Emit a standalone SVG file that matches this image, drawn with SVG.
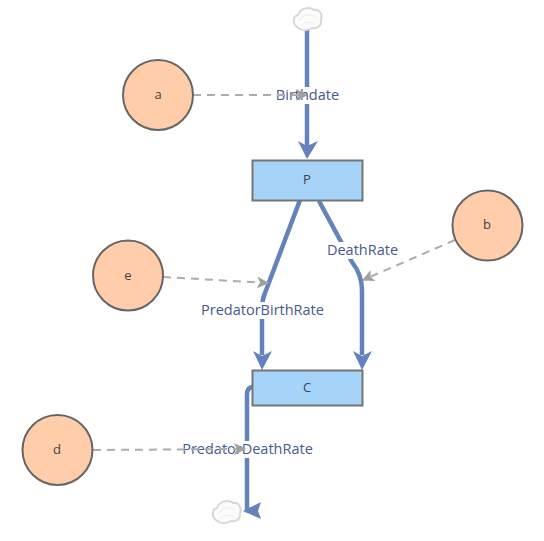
<svg xmlns="http://www.w3.org/2000/svg" width="544" height="541" viewBox="0 0 544 541">
<style>
text{font-family:"Open Sans","Liberation Sans",sans-serif;text-anchor:middle;dominant-baseline:central}
.stock{fill:#a6d3f8;stroke:#757575;stroke-width:2}
.aux{fill:#ffcdaa;stroke:#666;stroke-width:2}
.name{font-size:13px;fill:#444}
.flow{fill:none;stroke:#6482bb;stroke-width:4.500}
.flabel{font-size:14.500px;fill:#47598f}
.bg{fill:#fff}
.link{fill:none;stroke:#adadad;stroke-width:2;stroke-dasharray:8 6;marker-end:url(#ga)}
.cloud{fill:#fbfbfb;stroke:#d8d8d8;stroke-width:2}
.puff{fill:none;stroke:#ececec;stroke-width:1}
</style>
<defs>
<marker id="ga" markerUnits="userSpaceOnUse" markerWidth="14" markerHeight="14" refX="11" refY="6" orient="auto"><path d="M0 0L12 6L0 12L3 6Z" fill="#a0a0a0"/></marker>
</defs>
<g id="connectors">
<path class="flow" d="M307 30V146"/><path d="M307 159L298 141L307 146L318 141Z" fill="#6482bb"/>
<path class="flow" d="M300 200L265 293Q262 300 262 310V355"/><path d="M262 370L253 351L262 356L272 351Z" fill="#6482bb"/>
<path class="flow" d="M319 201L352 262Q362 275 362 290V355"/><path d="M362 370L353 351L362 356L372 351Z" fill="#6482bb"/>
<path class="flow" d="M253 387Q247 387 247 395V510H256"/><path d="M243 511L261 502L258 511L261 519Z" fill="#6482bb"/>
<rect class="bg" x="276" y="87" width="63" height="17"/>
<rect class="bg" x="328" y="242" width="70" height="17"/>
<rect class="bg" x="201" y="302" width="123" height="17"/>
<rect class="bg" x="183" y="441" width="128" height="17"/>
<text class="flabel" x="307.500" y="94.500">Birthdate</text>
<text class="flabel" x="362.500" y="249.500">DeathRate</text>
<text class="flabel" x="262.500" y="309.500">PredatorBirthRate</text>
<text class="flabel" x="247.500" y="448.500">PredatorDeathRate</text>
<path class="link" d="M193 95H307"/>
<path class="link" d="M163 277L268 283"/>
<path class="link" d="M455 240L363 280"/>
<path class="link" d="M93 450L245 449"/>
</g>
<g id="cloud1"><path class="cloud" d="M297 27C292 23 293 16 298 15C300 8 310 6 314 10C320 9 323 15 321 20C322 26 317 29 312 28C307 31 301 31 297 27Z"/><path class="puff" d="M299 21C302 15 310 13 316 17M301 26C304 22 310 21 315 24"/></g>
<g id="cloud2"><path class="cloud" d="M216 520C211 516 212 509 217 508C219 501 229 499 233 503C239 502 242 508 240 513C241 519 236 522 231 521C226 524 220 524 216 520Z"/><path class="puff" d="M218 514C221 508 229 506 235 510M220 519C223 515 229 514 234 517"/></g>
<g id="P"><rect class="stock" x="252.500" y="160.500" width="110" height="40"/><text class="name" x="307" y="179">P</text></g>
<g id="C"><rect class="stock" x="252.500" y="370.500" width="110" height="35"/><text class="name" x="307" y="387">C</text></g>
<g id="a"><circle class="aux" cx="158" cy="95" r="35"/><text class="name" x="158" y="94">a</text></g>
<g id="e"><circle class="aux" cx="128" cy="275.500" r="35"/><text class="name" x="128" y="275">e</text></g>
<g id="b"><circle class="aux" cx="487.500" cy="225.500" r="35"/><text class="name" x="487" y="224">b</text></g>
<g id="d"><circle class="aux" cx="57.500" cy="450" r="35"/><text class="name" x="57" y="449">d</text></g>
</svg>
